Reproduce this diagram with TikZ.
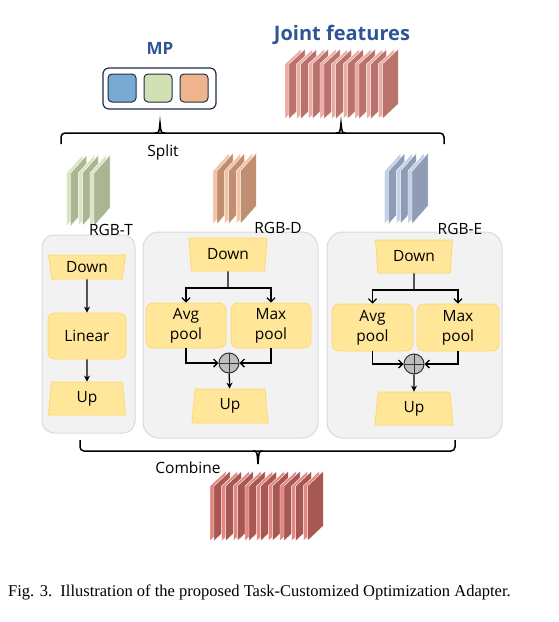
\documentclass[tikz,border=0pt]{standalone}
\usepackage{fontspec}
\setmainfont{Liberation Serif}
\newfontfamily\labelfont{Open Sans}
\usetikzlibrary{shapes.geometric,arrows.meta}

\definecolor{titleblue}{RGB}{47,85,151}
\definecolor{mpframe}{RGB}{31,45,75}
\definecolor{mpblue}{RGB}{122,170,210}
\definecolor{mpgreen}{RGB}{210,225,180}
\definecolor{mporange}{RGB}{238,180,140}
\definecolor{boxfill}{RGB}{255,230,153}
\definecolor{boxline}{RGB}{255,215,110}
\definecolor{panelfill}{RGB}{242,242,242}
\definecolor{panelline}{RGB}{218,218,218}
\definecolor{jointface}{RGB}{185,115,108}
\definecolor{jointedge}{RGB}{238,170,165}
\definecolor{combface}{RGB}{168,88,82}
\definecolor{combedge}{RGB}{228,135,130}
\definecolor{tface}{RGB}{170,182,145}
\definecolor{tedge}{RGB}{218,228,195}
\definecolor{dface}{RGB}{192,142,112}
\definecolor{dedge}{RGB}{242,195,165}
\definecolor{eface}{RGB}{142,156,182}
\definecolor{eedge}{RGB}{195,208,232}
\definecolor{plusfill}{RGB}{190,190,190}

% one feature slab: x, bottom y, height, rise, face colour, edge colour
\newcommand{\slab}[6]{%
  \filldraw[fill=#6,draw=white,line width=.4pt] (#1,#2) -- ++(0,-#3) -- ++(16,-#4) -- ++(0,#3) -- cycle;
  \filldraw[fill=#5,draw=white,line width=.4pt] (#1+4,#2) -- ++(0,-#3) -- ++(16,-#4) -- ++(0,#3) -- cycle;}

\begin{document}
\begin{tikzpicture}
  [x=1pt,y=-1pt,
   every node/.style={font=\labelfont\fontsize{15.5}{20}\selectfont},
   title/.style={font=\labelfont\bfseries\fontsize{#1}{#1}\selectfont,text=titleblue},
   panel/.style={rectangle,rounded corners=16,fill=panelfill,draw=panelline,line width=1pt,inner sep=0pt},
   downbox/.style={trapezium,trapezium angle=78,shape border rotate=180,trapezium stretches body,
     fill=boxfill,draw=boxline,line width=.8pt,inner sep=0pt,minimum width=77,minimum height=33},
   upbox/.style={trapezium,trapezium angle=78,trapezium stretches body,
     fill=boxfill,draw=boxline,line width=.8pt,inner sep=0pt,minimum width=77,minimum height=33},
   blockbox/.style={rectangle,rounded corners=7,fill=boxfill,draw=boxline,line width=.8pt,
     inner sep=0pt,minimum width=80,minimum height=45,align=center},
   plus/.style={circle,fill=plusfill,draw=black!80,line width=1pt,minimum size=20,inner sep=0pt,
     path picture={\draw[line width=.8pt,black!80]
       (path picture bounding box.north) -- (path picture bounding box.south)
       (path picture bounding box.west) -- (path picture bounding box.east);}},
   mpcell/.style={rectangle,rounded corners=4,draw=mpframe,line width=1pt,minimum size=28,inner sep=0pt},
   flow/.style={line width=1.3pt,-{Stealth[length=6pt,width=6pt]}},
   branch/.style={line width=1.3pt,-{Straight Barb[length=4pt,width=8pt]}},
   wire/.style={line width=1.3pt},
   bracket/.style={line width=1.5pt}]

  \useasboundingbox (0,0) rectangle (559,622);

  % inputs
  \node [title=17] (mplabel) at (160,48) {MP};
  \node [rectangle,rounded corners=6,draw=mpframe,line width=1.2pt,minimum width=113,minimum height=41] (mp) at (159.5,88.5) {};
  \node [mpcell,fill=mpblue] (mp1) at (122,88) {};
  \node [mpcell,fill=mpgreen] (mp2) at (158,88) {};
  \node [mpcell,fill=mporange] (mp3) at (194,88) {};

  \node [title=20] (jointlabel) at (342,35) {Joint features};
  \foreach \i in {0,...,8} {\slab{285+11.67*\i}{119}{55}{15}{jointface}{jointedge}}

  % split
  \draw [bracket,rounded corners=4] (61,144) -- (61,133) -- (444,133) -- (444,144);
  \draw [bracket] (155,133) .. controls (159,133) .. (160,123) .. controls (161,133) .. (165,133);
  \draw [bracket] (336,133) .. controls (340,133) .. (341,123) .. controls (342,133) .. (346,133);
  \node (split) at (163,152) {Split};

  % branch features
  \foreach \i in {0,1,2} {\slab{66.7+11.67*\i}{226}{53}{18}{tface}{tedge}}
  \foreach \i in {0,1,2} {\slab{213+11.67*\i}{224}{53}{18}{dface}{dedge}}
  \foreach \i in {0,1,2} {\slab{384.7+11.67*\i}{224}{53}{18}{eface}{eedge}}

  % panels
  \node [panel,rounded corners=12,minimum width=93,minimum height=198] (tpanel) at (88.5,334) {};
  \node [panel,minimum width=175,minimum height=206] (dpanel) at (230.5,335) {};
  \node [panel,minimum width=175,minimum height=206] (epanel) at (414.5,335) {};
  \node (tlabel) at (111,230) {RGB-T};
  \node (dlabel) at (278,228) {RGB-D};
  \node (elabel) at (460,229) {RGB-E};

  % RGB-T
  \node [downbox,trapezium angle=74,minimum height=24] (tdown) at (87,267) {Down};
  \node [blockbox,minimum width=78,minimum height=46] (tlinear) at (87,336) {Linear};
  \node [upbox] (tup) at (87,398.5) {Up};
  \draw [flow] (tdown) -- (tlinear);
  \draw [flow] (tlinear) -- (tup);

  % RGB-D
  \node [downbox,minimum width=78] (ddown) at (228,254.5) {Down};
  \node [blockbox] (davg) at (186,325.5) {Avg\\pool};
  \node [blockbox] (dmax) at (271,325.5) {Max\\pool};
  \node [plus] (dplus) at (229,363) {};
  \node [upbox,minimum width=76,minimum height=34] (dup) at (230,406) {Up};
  \coordinate (dsplit) at (228,288);
  \draw [wire] (ddown) -- (dsplit);
  \draw [branch] (dsplit) -| (davg);
  \draw [branch] (dsplit) -| (dmax);
  \draw [branch] (davg) |- (dplus);
  \draw [branch] (dmax) |- (dplus);
  \draw [flow] (dplus) -- (dup);

  % RGB-E
  \node [downbox] (edown) at (414,256.5) {Down};
  \node [blockbox,minimum width=81,minimum height=47] (eavg) at (372.5,327.5) {Avg\\pool};
  \node [blockbox,minimum width=82,minimum height=47] (emax) at (458,327.5) {Max\\pool};
  \node [plus] (eplus) at (414,364) {};
  \node [upbox,minimum width=78] (eup) at (414,408.5) {Up};
  \coordinate (esplit) at (414,290);
  \draw [wire] (edown) -- (esplit);
  \draw [branch] (esplit) -| (eavg);
  \draw [branch] (esplit) -| (emax);
  \draw [branch] (eavg) |- (eplus);
  \draw [branch] (emax) |- (eplus);
  \draw [flow] (eplus) -- (eup);

  % combine
  \draw [bracket,rounded corners=4] (80,440) -- (80,451) -- (455,451) -- (455,440);
  \draw [bracket] (253,451) .. controls (257,451) .. (258,464) .. controls (259,451) .. (263,451);
  \node (combine) at (188,468) {Combine};
  \foreach \i in {0,...,8} {\slab{210+11.67*\i}{541}{55}{15}{combface}{combedge}}

  \node [anchor=base west,inner sep=0pt,font=\rmfamily\fontsize{16.5}{18}\selectfont] (caption) at (8,596)
    {Fig. 3.\ \ Illustration of the proposed Task-Customized Optimization Adapter.};
\end{tikzpicture}
\end{document}
